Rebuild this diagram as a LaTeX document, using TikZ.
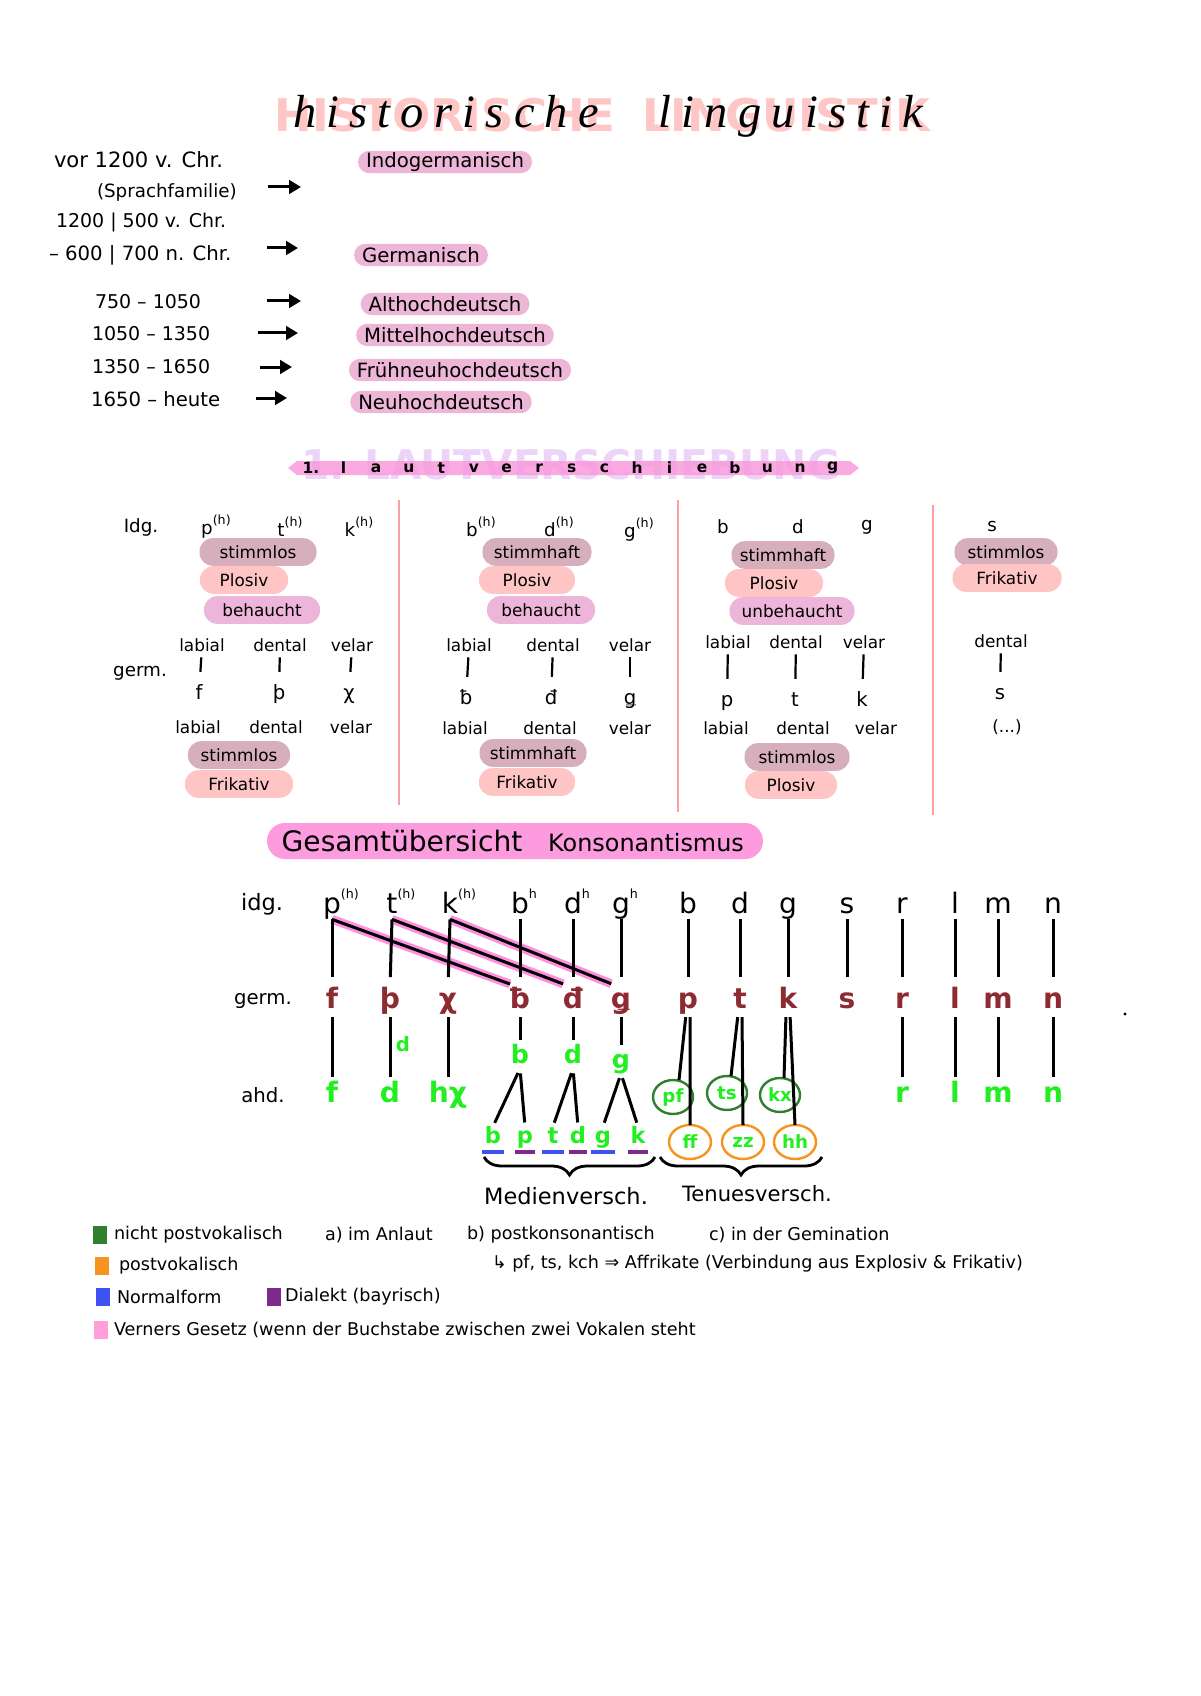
\documentclass[tikz,border=0pt]{standalone}
\usepackage{fontspec}
\setmainfont{DejaVu Sans}
\newfontfamily\cursivefont{Liberation Serif}[LetterSpace=22]
\usetikzlibrary{arrows.meta,decorations.pathreplacing,shapes.geometric}
\definecolor{titlepink}{HTML}{FFC6C6}
\definecolor{lilac}{HTML}{ECD4F8}
\definecolor{barpink}{HTML}{FA9ADC}
\definecolor{tlpill}{HTML}{EDB6D7}
\definecolor{pmauve}{HTML}{D6AEBC}
\definecolor{psalmon}{HTML}{FFC5C5}
\definecolor{ppink}{HTML}{EDB5DA}
\definecolor{sepred}{HTML}{FF9E9E}
\definecolor{gespink}{HTML}{FC9CDE}
\definecolor{germred}{HTML}{8E2A32}
\definecolor{ahdgreen}{HTML}{22EE22}
\definecolor{dkgreen}{HTML}{2F7F2F}
\definecolor{lgorange}{HTML}{F7941E}
\definecolor{lgblue}{HTML}{3F51F2}
\definecolor{lgpurple}{HTML}{7D2A8C}
\definecolor{lgpink}{HTML}{FF9ED9}
\definecolor{hlpink}{HTML}{FF8FE0}
\newcommand{\myfs}[1]{\fontsize{#1}{#1}\selectfont}
\newcommand{\hsup}[1]{\rlap{\raisebox{0.55em}{\myfs{9}#1}}}
\begin{document}
\begin{tikzpicture}[x=0.25mm,y=-0.25mm,
  every node/.style={inner sep=0pt, outer sep=0pt},
  tlab/.style={anchor=west, font=\myfs{14}},
  tpill/.style={fill=tlpill, rounded corners=2.8mm, minimum height=5.6mm, inner xsep=2mm, font=\myfs{14}},
  arr/.style={-{Triangle[length=3mm,width=3.4mm]}, line width=0.75mm},
  cpill/.style={rounded corners=3.3mm, minimum height=6.9mm, font=\myfs{12}},
  mauvep/.style={cpill, fill=pmauve},
  salmonp/.style={cpill, fill=psalmon},
  pinkp/.style={cpill, fill=ppink},
  head/.style={font=\myfs{13}},
  lab/.style={font=\myfs{12}, text height=9pt, text depth=0pt},
  gl/.style={font=\myfs{14}, text height=10pt, text depth=3pt},
  shortbar/.style={line width=0.55mm, shorten <=1.5mm, shorten >=3.5mm},
  sep/.style={draw=sepred, line width=0.7mm},
  tl/.style={font=\myfs{20}, text height=15pt, text depth=4pt},
  gr/.style={tl, text=germred, font=\bfseries\myfs{20}},
  ah/.style={tl, text=ahdgreen, font=\bfseries\myfs{20}},
  mid/.style={text=ahdgreen, font=\bfseries\myfs{18}, text height=13pt, text depth=3.5pt},
  bot/.style={text=ahdgreen, font=\bfseries\myfs{16}, text height=12pt, text depth=3pt},
  vline/.style={line width=0.75mm},
  hl/.style={draw=hlpink, line width=2.2mm},
  gcirc/.style={ellipse, draw=dkgreen, line width=0.6mm, minimum width=10mm, minimum height=8.5mm, text=ahdgreen, font=\bfseries\myfs{13}},
  ocirc/.style={ellipse, draw=lgorange, line width=0.6mm, minimum width=10.5mm, minimum height=8.5mm, text=ahdgreen, font=\bfseries\myfs{13}},
  uline/.style={line width=1mm},
  lsq/.style={minimum width=3.5mm, minimum height=4.5mm},
  ltxt/.style={anchor=west, font=\myfs{12.5}}
]
\useasboundingbox (0,0) rectangle (1200,1696);
\fill[white] (0,0) rectangle (1200,1696);

% ---------- title ----------
\node[font=\bfseries\myfs{32}, text=titlepink] (tt1) at (445,115) {HISTORISCHE};
\node[font=\bfseries\myfs{32}, text=titlepink] (tt2) at (786,115) {LINGUISTIK};
\node[font=\cursivefont\itshape\myfs{33}, anchor=base] (ct1) at (446,128) {historische};
\node[font=\cursivefont\itshape\myfs{33}, anchor=base] (ct2) at (791,128) {linguistik};

% ---------- timeline ----------
\node[tlab, font=\myfs{15}] (d1) at (54,160) {vor 1200 v. Chr.};
\node[tlab, font=\myfs{13}] (d1b) at (97,192) {(Sprachfamilie)};
\node[tlab, font=\myfs{13.5}] (d2) at (56,222) {1200 | 500 v. Chr.};
\node[tlab] (d2b) at (49,255) {– 600 | 700 n. Chr.};
\node[tlab, font=\myfs{13.5}] (d3) at (95,302) {750 – 1050};
\node[tlab, font=\myfs{13.5}] (d4) at (92,334) {1050 – 1350};
\node[tlab, font=\myfs{13.5}] (d5) at (92,367) {1350 – 1650};
\node[tlab] (d6) at (91,399) {1650 – heute};

\node[tpill] (p1) at (445,162) {Indogermanisch};
\node[tpill] (p2) at (421,255) {Germanisch};
\node[tpill] (p3) at (445,304) {Althochdeutsch};
\node[tpill] (p4) at (455,335) {Mittelhochdeutsch};
\node[tpill] (p5) at (460,370) {Frühneuhochdeutsch};
\node[tpill] (p6) at (441,402) {Neuhochdeutsch};

\coordinate (a1s) at (268,187); \coordinate (a1e) at (301,187);
\coordinate (a2s) at (267,248); \coordinate (a2e) at (298,248);
\coordinate (a3s) at (267,301); \coordinate (a3e) at (301,301);
\coordinate (a4s) at (258,333); \coordinate (a4e) at (298,333);
\coordinate (a5s) at (260,367); \coordinate (a5e) at (292,367);
\coordinate (a6s) at (256,398); \coordinate (a6e) at (287,398);
\draw[arr] (a1s) -- (a1e);
\draw[arr] (a2s) -- (a2e);
\draw[arr] (a3s) -- (a3e);
\draw[arr] (a4s) -- (a4e);
\draw[arr] (a5s) -- (a5e);
\draw[arr] (a6s) -- (a6e);

% ---------- 1. Lautverschiebung ----------
\node[font=\bfseries\myfs{29}, text=lilac] (lvcaps) at (571,465) {1. LAUTVERSCHIEBUNG};
\fill[barpink, opacity=0.85] (288,468) -- (297,461) -- (850,461) -- (859,468) -- (850,475) -- (297,475) -- cycle;
\foreach \ch [count=\k] in {1.,l,a,u,t,v,e,r,s,c,h,i,e,b,u,n,g}
  \node[font=\bfseries\myfs{11}] (lv\k) at ({311+(\k-1)*32.6},468) {\ch};

% separators
\draw[sep] (399,500) -- (399,805);
\draw[sep] (678,500) -- (678,812);
\draw[sep] (933,505) -- (933,815);

% column 1
\node[head] (c1idg) at (141,527) {Idg.};
\node[head] (c1h1) at (207,527) {p\hsup{(h)}};
\node[head] (c1h2) at (281,527) {t\hsup{(h)}};
\node[head] (c1h3) at (350,527) {k\hsup{(h)}};
\node[mauvep, minimum width=29.25mm] (c1q1) at (258,552) {stimmlos};
\node[salmonp, minimum width=22mm] (c1q2) at (244,580) {Plosiv};
\node[pinkp, minimum width=29mm] (c1q3) at (262,610) {behaucht};
\node[lab] (c1l1) at (202,645) {labial};
\node[lab] (c1l2) at (280,645) {dental};
\node[lab] (c1l3) at (352,645) {velar};
\node[head] (c1germ) at (140,673) {germ.};
\node[gl] (c1g1) at (199,695) {f};
\node[gl] (c1g2) at (279,695) {þ};
\node[gl] (c1g3) at (349,695) {χ};
\draw[shortbar] (c1l1) -- (c1g1);
\draw[shortbar] (c1l2) -- (c1g2);
\draw[shortbar] (c1l3) -- (c1g3);
\node[lab] (c1m1) at (198,727) {labial};
\node[lab] (c1m2) at (276,727) {dental};
\node[lab] (c1m3) at (351,727) {velar};
\node[mauvep, minimum width=25.5mm] (c1q4) at (239,755) {stimmlos};
\node[salmonp, minimum width=27mm] (c1q5) at (239,784) {Frikativ};

% column 2
\node[head] (c2h1) at (472,527) {b\hsup{(h)}};
\node[head] (c2h2) at (550,527) {d\hsup{(h)}};
\node[head] (c2h3) at (630,530) {g\hsup{(h)}};
\node[mauvep, minimum width=27.25mm] (c2q1) at (537,552) {stimmhaft};
\node[salmonp, minimum width=24mm] (c2q2) at (527,580) {Plosiv};
\node[pinkp, minimum width=27mm] (c2q3) at (541,610) {behaucht};
\node[lab] (c2l1) at (469,645) {labial};
\node[lab] (c2l2) at (553,645) {dental};
\node[lab] (c2l3) at (630,645) {velar};
\node[gl] (c2g1) at (466,700) {ƀ};
\node[gl] (c2g2) at (551,700) {đ};
\node[gl] (c2g3) at (630,700) {ǥ};
\draw[shortbar] (c2l1) -- (c2g1);
\draw[shortbar] (c2l2) -- (c2g2);
\draw[shortbar] (c2l3) -- (c2g3);
\node[lab] (c2m1) at (465,728) {labial};
\node[lab] (c2m2) at (550,728) {dental};
\node[lab] (c2m3) at (630,728) {velar};
\node[mauvep, minimum width=26.75mm] (c2q4) at (533,753) {stimmhaft};
\node[salmonp, minimum width=24mm] (c2q5) at (527,782) {Frikativ};

% column 3
\node[head] (c3h1) at (723,527) {b};
\node[head] (c3h2) at (798,527) {d};
\node[head] (c3h3) at (867,527) {g};
\node[mauvep, minimum width=25.75mm] (c3q1) at (783,555) {stimmhaft};
\node[salmonp, minimum width=24.5mm] (c3q2) at (774,583) {Plosiv};
\node[pinkp, minimum width=31.25mm] (c3q3) at (792,611) {unbehaucht};
\node[lab] (c3l1) at (728,642) {labial};
\node[lab] (c3l2) at (796,642) {dental};
\node[lab] (c3l3) at (864,642) {velar};
\node[gl] (c3g1) at (727,702) {p};
\node[gl] (c3g2) at (795,702) {t};
\node[gl] (c3g3) at (862,702) {k};
\draw[shortbar] (c3l1) -- (c3g1);
\draw[shortbar] (c3l2) -- (c3g2);
\draw[shortbar] (c3l3) -- (c3g3);
\node[lab] (c3m1) at (726,728) {labial};
\node[lab] (c3m2) at (803,728) {dental};
\node[lab] (c3m3) at (876,728) {velar};
\node[mauvep, minimum width=26.25mm] (c3q4) at (797,757) {stimmlos};
\node[salmonp, minimum width=23mm] (c3q5) at (791,785) {Plosiv};

% column 4
\node[head] (c4h1) at (992,527) {s};
\node[mauvep, minimum width=25.75mm] (c4q1) at (1006,552) {stimmlos};
\node[salmonp, minimum width=27.25mm] (c4q2) at (1007,578) {Frikativ};
\node[lab] (c4l1) at (1001,641) {dental};
\node[gl] (c4g1) at (1000,695) {s};
\draw[shortbar] (c4l1) -- (c4g1);
\node[lab] (c4m1) at (1007,726) {(...)};

% ---------- Gesamtübersicht ----------
\node[fill=gespink, rounded corners=4.5mm, minimum width=124mm, minimum height=9mm] (ges) at (515,841) {};
\node[font=\myfs{20}] (gest1) at (402,841) {Gesamtübersicht};
\node[font=\myfs{17}] (gest2) at (646,843) {Konsonantismus};

\node[font=\myfs{16}] (lidg) at (262,904) {idg.};
\node[font=\myfs{14}] (lgerm) at (263,1001) {germ.};
\node[font=\myfs{14}] (lahd) at (263,1095) {ahd.};

% idg row
\node[tl] (i1) at (332,906) {p\hsup{(h)}};
\node[tl] (i2) at (392,906) {t\hsup{(h)}};
\node[tl] (i3) at (450,906) {k\hsup{(h)}};
\node[tl] (i4) at (520,906) {b\hsup{h}};
\node[tl] (i5) at (573,906) {d\hsup{h}};
\node[tl] (i6) at (621,906) {g\hsup{h}};
\node[tl] (i7) at (688,906) {b};
\node[tl] (i8) at (740,906) {d};
\node[tl] (i9) at (788,906) {g};
\node[tl] (i10) at (847,906) {s};
\node[tl] (i11) at (902,906) {r};
\node[tl] (i12) at (955,906) {l};
\node[tl] (i13) at (998,906) {m};
\node[tl] (i14) at (1053,906) {n};

% germ row
\node[gr] (g1) at (332,1001) {f};
\node[gr] (g2) at (390,1001) {þ};
\node[gr] (g3) at (448,1001) {χ};
\node[gr] (g4) at (520,1001) {ƀ};
\node[gr] (g5) at (573,1001) {đ};
\node[gr] (g6) at (621,1001) {ǥ};
\node[gr] (g7) at (688,1001) {p};
\node[gr] (g8) at (740,1001) {t};
\node[gr] (g9) at (788,1001) {k};
\node[gr] (g10) at (847,1001) {s};
\node[gr] (g11) at (902,1001) {r};
\node[gr] (g12) at (955,1001) {l};
\node[gr] (g13) at (998,1001) {m};
\node[gr] (g14) at (1053,1001) {n};

% Verner diagonals
\draw[hl, shorten >=2.65mm] (i1.south) -- (g4.north);
\draw[hl, shorten >=2.65mm] (i2.south) -- (g5.north);
\draw[hl, shorten >=2.65mm] (i3.south) -- (g6.north);
\draw[vline, shorten >=2.65mm] (i1.south) -- (g4.north);
\draw[vline, shorten >=2.65mm] (i2.south) -- (g5.north);
\draw[vline, shorten >=2.65mm] (i3.south) -- (g6.north);

% idg -> germ verticals
\foreach \k in {1,...,14}
  \draw[vline, shorten >=2.65mm] (i\k.south) -- (g\k.north);

% ahd row
\node[ah] (a1) at (332,1095) {f};
\node[ah] (a2) at (390,1095) {d};
\node[text=ahdgreen, font=\bfseries\myfs{14}] (a2x) at (403,1044) {d};
\node[ah] (a3) at (448,1095) {hχ};
\node[ah] (a11) at (902,1095) {r};
\node[ah] (a12) at (955,1095) {l};
\node[ah] (a13) at (998,1095) {m};
\node[ah] (a14) at (1053,1095) {n};
\draw[vline, shorten <=0.7mm, shorten >=1.2mm] (g1.south) -- (a1.north);
\draw[vline, shorten <=0.7mm, shorten >=1.2mm] (g2.south) -- (a2.north);
\draw[vline, shorten <=0.7mm, shorten >=1.2mm] (g3.south) -- (a3.north);
\draw[vline, shorten <=0.7mm, shorten >=1.2mm] (g11.south) -- (a11.north);
\draw[vline, shorten <=0.7mm, shorten >=1.2mm] (g12.south) -- (a12.north);
\draw[vline, shorten <=0.7mm, shorten >=1.2mm] (g13.south) -- (a13.north);
\draw[vline, shorten <=0.7mm, shorten >=1.2mm] (g14.south) -- (a14.north);

% Medienverschiebung
\node[mid] (m1) at (520,1057) {b};
\node[mid] (m2) at (573,1057) {d};
\node[mid] (m3) at (621,1062) {g};
\draw[vline, shorten <=0.7mm, shorten >=1.25mm] (g4.south) -- (m1.north);
\draw[vline, shorten <=0.7mm, shorten >=1.25mm] (g5.south) -- (m2.north);
\draw[vline, shorten <=0.7mm, shorten >=1.25mm] (g6.south) -- (m3.north);
\node[bot] (b1) at (493,1137) {b};
\node[bot] (b2) at (525,1137) {p};
\node[bot] (b3) at (553,1137) {t};
\node[bot] (b4) at (578,1137) {d};
\node[bot] (b5) at (603,1137) {g};
\node[bot] (b6) at (638,1137) {k};
\draw[vline, shorten <=1.2mm, shorten >=1mm] (m1.south) -- (b1.north);
\draw[vline, shorten <=1.2mm, shorten >=1mm] (m1.south) -- (b2.north);
\draw[vline, shorten <=1.2mm, shorten >=1mm] (m2.south) -- (b3.north);
\draw[vline, shorten <=1.2mm, shorten >=1mm] (m2.south) -- (b4.north);
\draw[vline, shorten <=1.2mm, shorten >=1mm] (m3.south) -- (b5.north);
\draw[vline, shorten <=1.2mm, shorten >=1mm] (m3.south) -- (b6.north);
\draw[uline, lgblue] ([xshift=-2.7mm,yshift=-1.2mm]b1.south) -- ([xshift=2.7mm,yshift=-1.2mm]b1.south);
\draw[uline, lgpurple] ([xshift=-2.5mm,yshift=-1.2mm]b2.south) -- ([xshift=2.5mm,yshift=-1.2mm]b2.south);
\draw[uline, lgblue] ([xshift=-2.7mm,yshift=-1.2mm]b3.south) -- ([xshift=2.7mm,yshift=-1.2mm]b3.south);
\draw[uline, lgpurple] ([xshift=-2.2mm,yshift=-1.2mm]b4.south) -- ([xshift=2.2mm,yshift=-1.2mm]b4.south);
\draw[uline, lgblue] ([xshift=-3mm,yshift=-1.2mm]b5.south) -- ([xshift=3mm,yshift=-1.2mm]b5.south);
\draw[uline, lgpurple] ([xshift=-2.6mm,yshift=-1.2mm]b6.south) -- ([xshift=2.6mm,yshift=-1.2mm]b6.south);

% Tenuesverschiebung
\node[gcirc] (t1) at (673,1097) {pf};
\node[gcirc] (t2) at (727,1093) {ts};
\node[gcirc] (t3) at (780,1095) {kx};
\node[ocirc] (o1) at (690,1142) {ff};
\node[ocirc] (o2) at (743,1142) {zz};
\node[ocirc] (o3) at (795,1142) {hh};
\draw[vline, shorten <=0.7mm] ([xshift=-0.5mm]g7.south) -- ([xshift=1.5mm]t1.north);
\draw[vline, shorten <=0.7mm] ([xshift=0.5mm]g7.south) -- (o1.north);
\draw[vline, shorten <=0.7mm] ([xshift=-0.5mm]g8.south) -- ([xshift=1mm]t2.north);
\draw[vline, shorten <=0.7mm] ([xshift=0.5mm]g8.south) -- (o2.north);
\draw[vline, shorten <=0.7mm] ([xshift=-0.5mm]g9.south) -- ([xshift=1mm]t3.north);
\draw[vline, shorten <=0.7mm] ([xshift=0.5mm]g9.south) -- (o3.north);

\fill (1125,1014) circle (1.6);

% braces
\coordinate (br1a) at (484,1157); \coordinate (br1b) at (655,1157);
\coordinate (br2a) at (660,1157); \coordinate (br2b) at (822,1157);
\draw[line width=0.7mm, decorate, decoration={brace, mirror, amplitude=4.5mm}] (br1a) -- (br1b);
\draw[line width=0.7mm, decorate, decoration={brace, mirror, amplitude=4.5mm}] (br2a) -- (br2b);
\node[font=\myfs{16}] (medv) at (566,1196) {Medienversch.};
\node[font=\myfs{15}] (tenv) at (757,1194) {Tenuesversch.};

% ---------- legend ----------
\node[lsq, fill=dkgreen] (sq1) at (100,1235) {};
\node[ltxt] (lg1a) at (114,1235) {nicht postvokalisch};
\node[ltxt] (lg1b) at (325,1235) {a) im Anlaut};
\node[ltxt] (lg1c) at (467,1235) {b) postkonsonantisch};
\node[ltxt] (lg1d) at (709,1235) {c) in der Gemination};
\node[lsq, fill=lgorange] (sq2) at (102,1266) {};
\node[ltxt] (lg2a) at (119,1266) {postvokalisch};
\node[ltxt] (lg2b) at (492,1264) {↳ pf, ts, kch ⇒ Affrikate (Verbindung aus Explosiv \& Frikativ)};
\node[lsq, fill=lgblue] (sq3) at (103,1297) {};
\node[ltxt] (lg3a) at (117,1297) {Normalform};
\node[lsq, fill=lgpurple] (sq4) at (274,1297) {};
\node[ltxt] (lg3b) at (285,1297) {Dialekt (bayrisch)};
\node[lsq, fill=lgpink] (sq5) at (101,1330) {};
\node[ltxt] (lg4) at (114,1330) {Verners Gesetz (wenn der Buchstabe zwischen zwei Vokalen steht};
\end{tikzpicture}
\end{document}
